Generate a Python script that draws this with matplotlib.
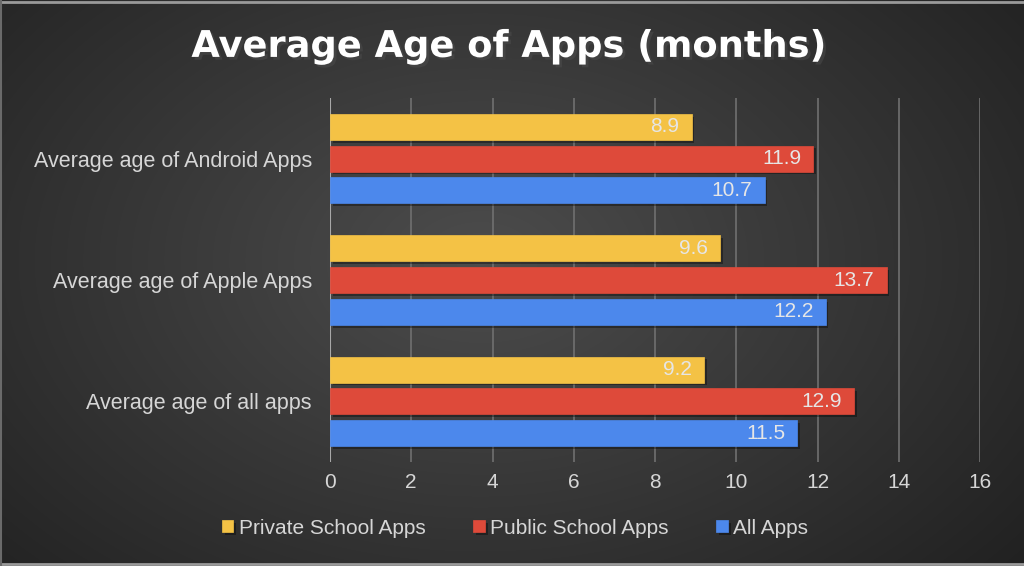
import matplotlib
matplotlib.use("Agg")
import matplotlib.pyplot as plt
import matplotlib.patheffects as pe
import numpy as np

categories = ["Average age of all apps", "Average age of Apple Apps", "Average age of Android Apps"]
series_names = ["Private School Apps", "Public School Apps", "All Apps"]
private_vals = [9.2, 9.6, 8.9]
public_vals = [12.9, 13.7, 11.9]
all_vals = [11.5, 12.2, 10.7]
xticks = [0, 2, 4, 6, 8, 10, 12, 14, 16]

colors = ["#F4C245", "#DE4A3A", "#4C88EC"]
text_col = "#D6D6D6"
font = "Liberation Sans"

fig = plt.figure(figsize=(10.24, 5.66), dpi=100)

# radial gradient background
bg = fig.add_axes([0, 0, 1, 1], zorder=-10)
yy, xx = np.mgrid[0:566, 0:1024]
r = np.sqrt(((xx - 480) / 620.0) ** 2 + ((yy - 260) / 420.0) ** 2)
shade = 0.30 - 0.15 * np.clip(r, 0, 1.2)
bg.imshow(np.dstack([shade] * 3), extent=[0, 1, 0, 1], aspect="auto", origin="upper")
bg.axhline(0.997, color="#9a9a9a", lw=2)
bg.axhline(0.003, color="#9a9a9a", lw=2)
bg.axvline(0.001, color="#6a6a6a", lw=1.5)
bg.set_xlim(0, 1)
bg.set_ylim(0, 1)
bg.axis("off")

ax = fig.add_axes([330 / 1024, 1 - 462 / 566, 650 / 1024, 364 / 566])
ax.set_facecolor("none")

y = np.arange(len(categories))
h = 0.215
step = 0.262
shadow = [pe.SimplePatchShadow(offset=(2, -2), shadow_rgbFace="black", alpha=0.35), pe.Normal()]
for i, (vals, col, name) in enumerate(zip([private_vals, public_vals, all_vals], colors, series_names)):
    pos = y + step * (1 - i)
    bars = ax.barh(pos, vals, height=h, color=col, label=name, zorder=3,
                   edgecolor=col, linewidth=0.5)
    for b in bars:
        b.set_path_effects(shadow)
    for p, v in zip(pos, vals):
        ax.text(v - 0.3, p, f"{v:.1f}", ha="right", va="center", color="#E6E6E6",
                fontsize=15, family=font, zorder=4)

ax.set_xlim(0, 16)
ax.set_ylim(-0.5, 2.5)
ax.set_xticks(xticks)
ax.set_yticks(y)
ax.set_yticklabels(categories)
ax.grid(axis="x", color="#707070", lw=1.2, zorder=0)
ax.axvline(0, color="#A8A8A8", lw=1.5, zorder=2)
for s in ax.spines.values():
    s.set_visible(False)
ax.tick_params(length=0, colors=text_col, labelsize=15, pad=8)
ax.tick_params(axis="y", labelsize=15.5, pad=13)
for lab in ax.get_xticklabels() + ax.get_yticklabels():
    lab.set_family(font)

fig.text(0.497, 0.918, "Average Age of Apps (months)", ha="center", va="center",
         color="white", fontsize=26.5, fontweight="bold", family="DejaVu Sans",
         path_effects=[pe.withSimplePatchShadow(offset=(2, -2), alpha=0.5)])

leg = fig.legend(loc="center", bbox_to_anchor=(0.503, 1 - 528 / 566), ncol=3, frameon=False,
                 handlelength=0.55, handleheight=0.55, handletextpad=0.25, columnspacing=2.3,
                 prop={"family": font, "size": 15})
for t in leg.get_texts():
    t.set_color(text_col)

fig.savefig("out.png", dpi=100)
plt.close(fig)
